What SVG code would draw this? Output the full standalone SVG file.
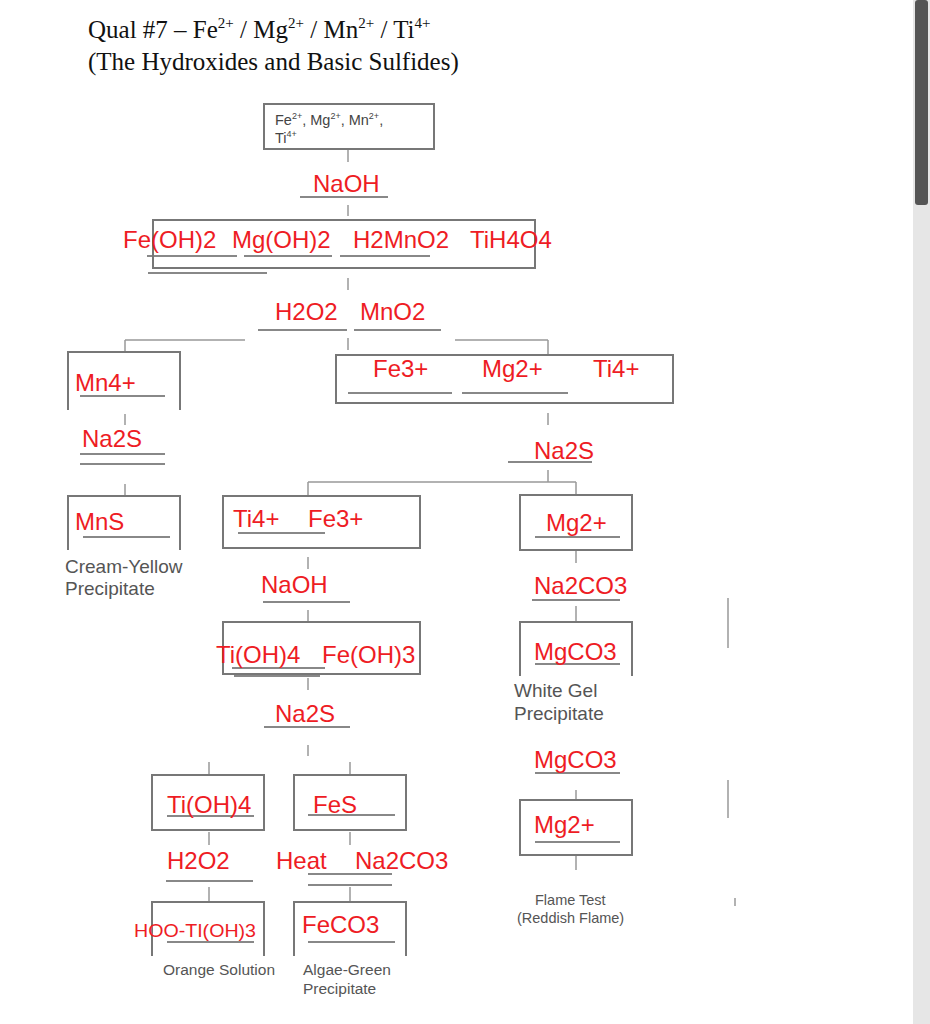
<svg xmlns="http://www.w3.org/2000/svg" width="930" height="1024" viewBox="0 0 930 1024">
<style>
.b{fill:none;stroke:#777;stroke-width:2}
.c line{stroke:#999;stroke-width:1.5}
.u line{stroke:#888;stroke-width:2}
.r{font-family:"Liberation Sans",Arial,sans-serif;font-size:24px;fill:#ee1c24}
.g{font-family:"Liberation Sans",Arial,sans-serif;font-size:19px;fill:#555}
.s{font-family:"Liberation Sans",Arial,sans-serif;font-size:15.5px;fill:#555}
.t{font-family:"Liberation Serif","Times New Roman",serif;font-size:25px;fill:#111}
</style>
<rect width="930" height="1024" fill="#fff"/>
<rect x="913" y="0" width="17" height="1024" fill="#e6e6e6"/>
<rect x="915" y="0" width="13" height="205" fill="#555" rx="3"/>
<text class="t" x="88" y="38">Qual #7 – Fe<tspan font-size="15" dy="-10">2+</tspan><tspan dy="10"> / Mg</tspan><tspan font-size="15" dy="-10">2+</tspan><tspan dy="10"> / Mn</tspan><tspan font-size="15" dy="-10">2+</tspan><tspan dy="10"> / Ti</tspan><tspan font-size="15" dy="-10">4+</tspan></text>
<text class="t" x="88" y="70">(The Hydroxides and Basic Sulfides)</text>

<g id="connectors" class="c">
<line x1="348" y1="150" x2="348" y2="162"/>
<line x1="348" y1="205" x2="348" y2="216"/>
<line x1="348" y1="278" x2="348" y2="290"/>
<line x1="348" y1="338" x2="348" y2="350"/>
<line x1="125" y1="340" x2="245" y2="340"/><line x1="455" y1="340" x2="548" y2="340"/>
<line x1="125" y1="340" x2="125" y2="352"/><line x1="548" y1="340" x2="548" y2="355"/>
<line x1="125" y1="414" x2="125" y2="425"/>
<line x1="548" y1="413" x2="548" y2="425"/>
<line x1="548" y1="470" x2="548" y2="482"/>
<line x1="125" y1="484" x2="125" y2="496"/>
<line x1="308" y1="482" x2="576" y2="482"/>
<line x1="308" y1="482" x2="308" y2="496"/><line x1="576" y1="482" x2="576" y2="495"/>
<line x1="308" y1="557" x2="308" y2="569"/>
<line x1="308" y1="610" x2="308" y2="622"/>
<line x1="308" y1="678" x2="308" y2="690"/>
<line x1="308" y1="745" x2="308" y2="756"/>
<line x1="209" y1="762" x2="209" y2="775"/><line x1="350" y1="762" x2="350" y2="775"/>
<line x1="209" y1="832" x2="209" y2="845"/><line x1="350" y1="832" x2="350" y2="845"/>
<line x1="209" y1="887" x2="209" y2="902"/><line x1="350" y1="887" x2="350" y2="902"/>
<line x1="576" y1="550" x2="576" y2="563"/>
<line x1="576" y1="606" x2="576" y2="622"/>
<line x1="576" y1="790" x2="576" y2="800"/>
<line x1="576" y1="856" x2="576" y2="870"/>
<line x1="728" y1="598" x2="728" y2="648"/>
<line x1="728" y1="780" x2="728" y2="818"/>
<line x1="735" y1="898" x2="735" y2="906"/>
</g>

<g id="underlines" class="u">
<line x1="300" y1="197" x2="388" y2="197"/>
<line x1="147" y1="256" x2="237" y2="256"/><line x1="244" y1="256" x2="332" y2="256"/><line x1="340" y1="256" x2="430" y2="256"/>
<line x1="148" y1="273" x2="267" y2="273"/>
<line x1="258" y1="330" x2="347" y2="330"/><line x1="354" y1="330" x2="441" y2="330"/>
<line x1="80" y1="396" x2="165" y2="396"/>
<line x1="348" y1="393" x2="452" y2="393"/><line x1="462" y1="393" x2="568" y2="393"/>
<line x1="80" y1="454" x2="165" y2="454"/><line x1="80" y1="464" x2="165" y2="464"/>
<line x1="508" y1="462" x2="592" y2="462"/>
<line x1="83" y1="537" x2="170" y2="537"/>
<line x1="238" y1="533" x2="325" y2="533"/>
<line x1="535" y1="537" x2="620" y2="537"/>
<line x1="263" y1="602" x2="350" y2="602"/>
<line x1="532" y1="600" x2="620" y2="600"/>
<line x1="232" y1="668" x2="325" y2="668"/><line x1="234" y1="676" x2="320" y2="676"/>
<line x1="535" y1="664" x2="620" y2="664"/>
<line x1="264" y1="727" x2="350" y2="727"/>
<line x1="535" y1="773" x2="620" y2="773"/>
<line x1="167" y1="816" x2="254" y2="816"/><line x1="308" y1="815" x2="395" y2="815"/>
<line x1="535" y1="842" x2="620" y2="842"/>
<line x1="166" y1="881" x2="253" y2="881"/>
<line x1="308" y1="874" x2="392" y2="874"/><line x1="308" y1="885" x2="392" y2="885" stroke="#ccc"/>
<line x1="167" y1="942" x2="254" y2="942"/><line x1="308" y1="942" x2="395" y2="942"/>
</g>

<g id="n-start"><rect class="b" x="264" y="104" width="170" height="45"/>
<text class="s" x="275" y="125" style="font-size:14.5px;fill:#444">Fe<tspan style="font-size:9px" dy="-6">2+</tspan><tspan dy="6">, Mg</tspan><tspan style="font-size:9px" dy="-6">2+</tspan><tspan dy="6">, Mn</tspan><tspan style="font-size:9px" dy="-6">2+</tspan><tspan dy="6">,</tspan></text>
<text class="s" x="275" y="143" style="font-size:14.5px;fill:#444">Ti<tspan style="font-size:9px" dy="-6">4+</tspan></text></g>
<g id="l-naoh1"><text class="r" x="313" y="192">NaOH</text></g>
<g id="n-hydroxides"><rect class="b" x="153" y="220" width="382" height="48"/>
<text class="r" x="123" y="248">Fe(OH)2</text><text class="r" x="232" y="248">Mg(OH)2</text><text class="r" x="353" y="248">H2MnO2</text><text class="r" x="470" y="248">TiH4O4</text></g>
<g id="l-h2o2"><text class="r" x="275" y="320">H2O2</text><text class="r" x="360" y="320">MnO2</text></g>
<g id="n-mn4"><path class="b" d="M68 410V352H180V410"/><text class="r" x="75" y="391">Mn4+</text></g>
<g id="n-fe-mg-ti"><rect class="b" x="336" y="355" width="337" height="48"/>
<text class="r" x="373" y="377">Fe3+</text><text class="r" x="482" y="377">Mg2+</text><text class="r" x="593" y="377">Ti4+</text></g>
<g id="l-na2s1"><text class="r" x="82" y="447">Na2S</text></g>
<g id="l-na2s2"><text class="r" x="534" y="459">Na2S</text></g>
<g id="n-mns"><path class="b" d="M68 550V496H180V550"/><text class="r" x="75" y="530">MnS</text>
<text class="g" x="65" y="573">Cream-Yellow</text><text class="g" x="65" y="595">Precipitate</text></g>
<g id="n-ti-fe"><rect class="b" x="223" y="496" width="197" height="52"/><text class="r" x="233" y="527">Ti4+</text><text class="r" x="308" y="527">Fe3+</text></g>
<g id="n-mg1"><rect class="b" x="520" y="495" width="112" height="55"/><text class="r" x="546" y="531">Mg2+</text></g>
<g id="l-naoh2"><text class="r" x="261" y="593">NaOH</text></g>
<g id="l-na2co3a"><text class="r" x="534" y="594">Na2CO3</text></g>
<g id="n-tioh-feoh"><rect class="b" x="223" y="622" width="197" height="52"/><text class="r" x="216" y="663">Ti(OH)4</text><text class="r" x="322" y="663">Fe(OH)3</text></g>
<g id="n-mgco3"><path class="b" d="M520 676V622H632V676"/><text class="r" x="534" y="660">MgCO3</text>
<text class="g" x="514" y="697">White Gel</text><text class="g" x="514" y="720">Precipitate</text></g>
<g id="l-na2s3"><text class="r" x="275" y="722">Na2S</text></g>
<g id="l-mgco3"><text class="r" x="534" y="768">MgCO3</text></g>
<g id="n-tioh4"><rect class="b" x="152" y="775" width="112" height="55"/><text class="r" x="167" y="813">Ti(OH)4</text></g>
<g id="n-fes"><rect class="b" x="294" y="775" width="112" height="55"/><text class="r" x="313" y="813">FeS</text></g>
<g id="n-mg2"><rect class="b" x="520" y="800" width="112" height="55"/><text class="r" x="534" y="833">Mg2+</text></g>
<g id="l-h2o2b"><text class="r" x="167" y="869">H2O2</text></g>
<g id="l-heat"><text class="r" x="276" y="869">Heat</text><text class="r" x="355" y="869">Na2CO3</text></g>
<g id="n-hoo"><path class="b" d="M152 956V902H264V956"/><text class="r" x="134" y="937" style="font-size:19px" textLength="122" lengthAdjust="spacingAndGlyphs">HOO-TI(OH)3</text>
<text class="s" x="163" y="975">Orange Solution</text></g>
<g id="n-feco3"><path class="b" d="M294 956V902H406V956"/><text class="r" x="302" y="933">FeCO3</text>
<text class="s" x="303" y="975">Algae-Green</text><text class="s" x="303" y="994">Precipitate</text></g>
<g id="l-flame"><text class="s" x="535" y="905" style="font-size:14.5px">Flame Test</text><text class="s" x="517" y="923" style="font-size:14.5px">(Reddish Flame)</text></g>
</svg>
